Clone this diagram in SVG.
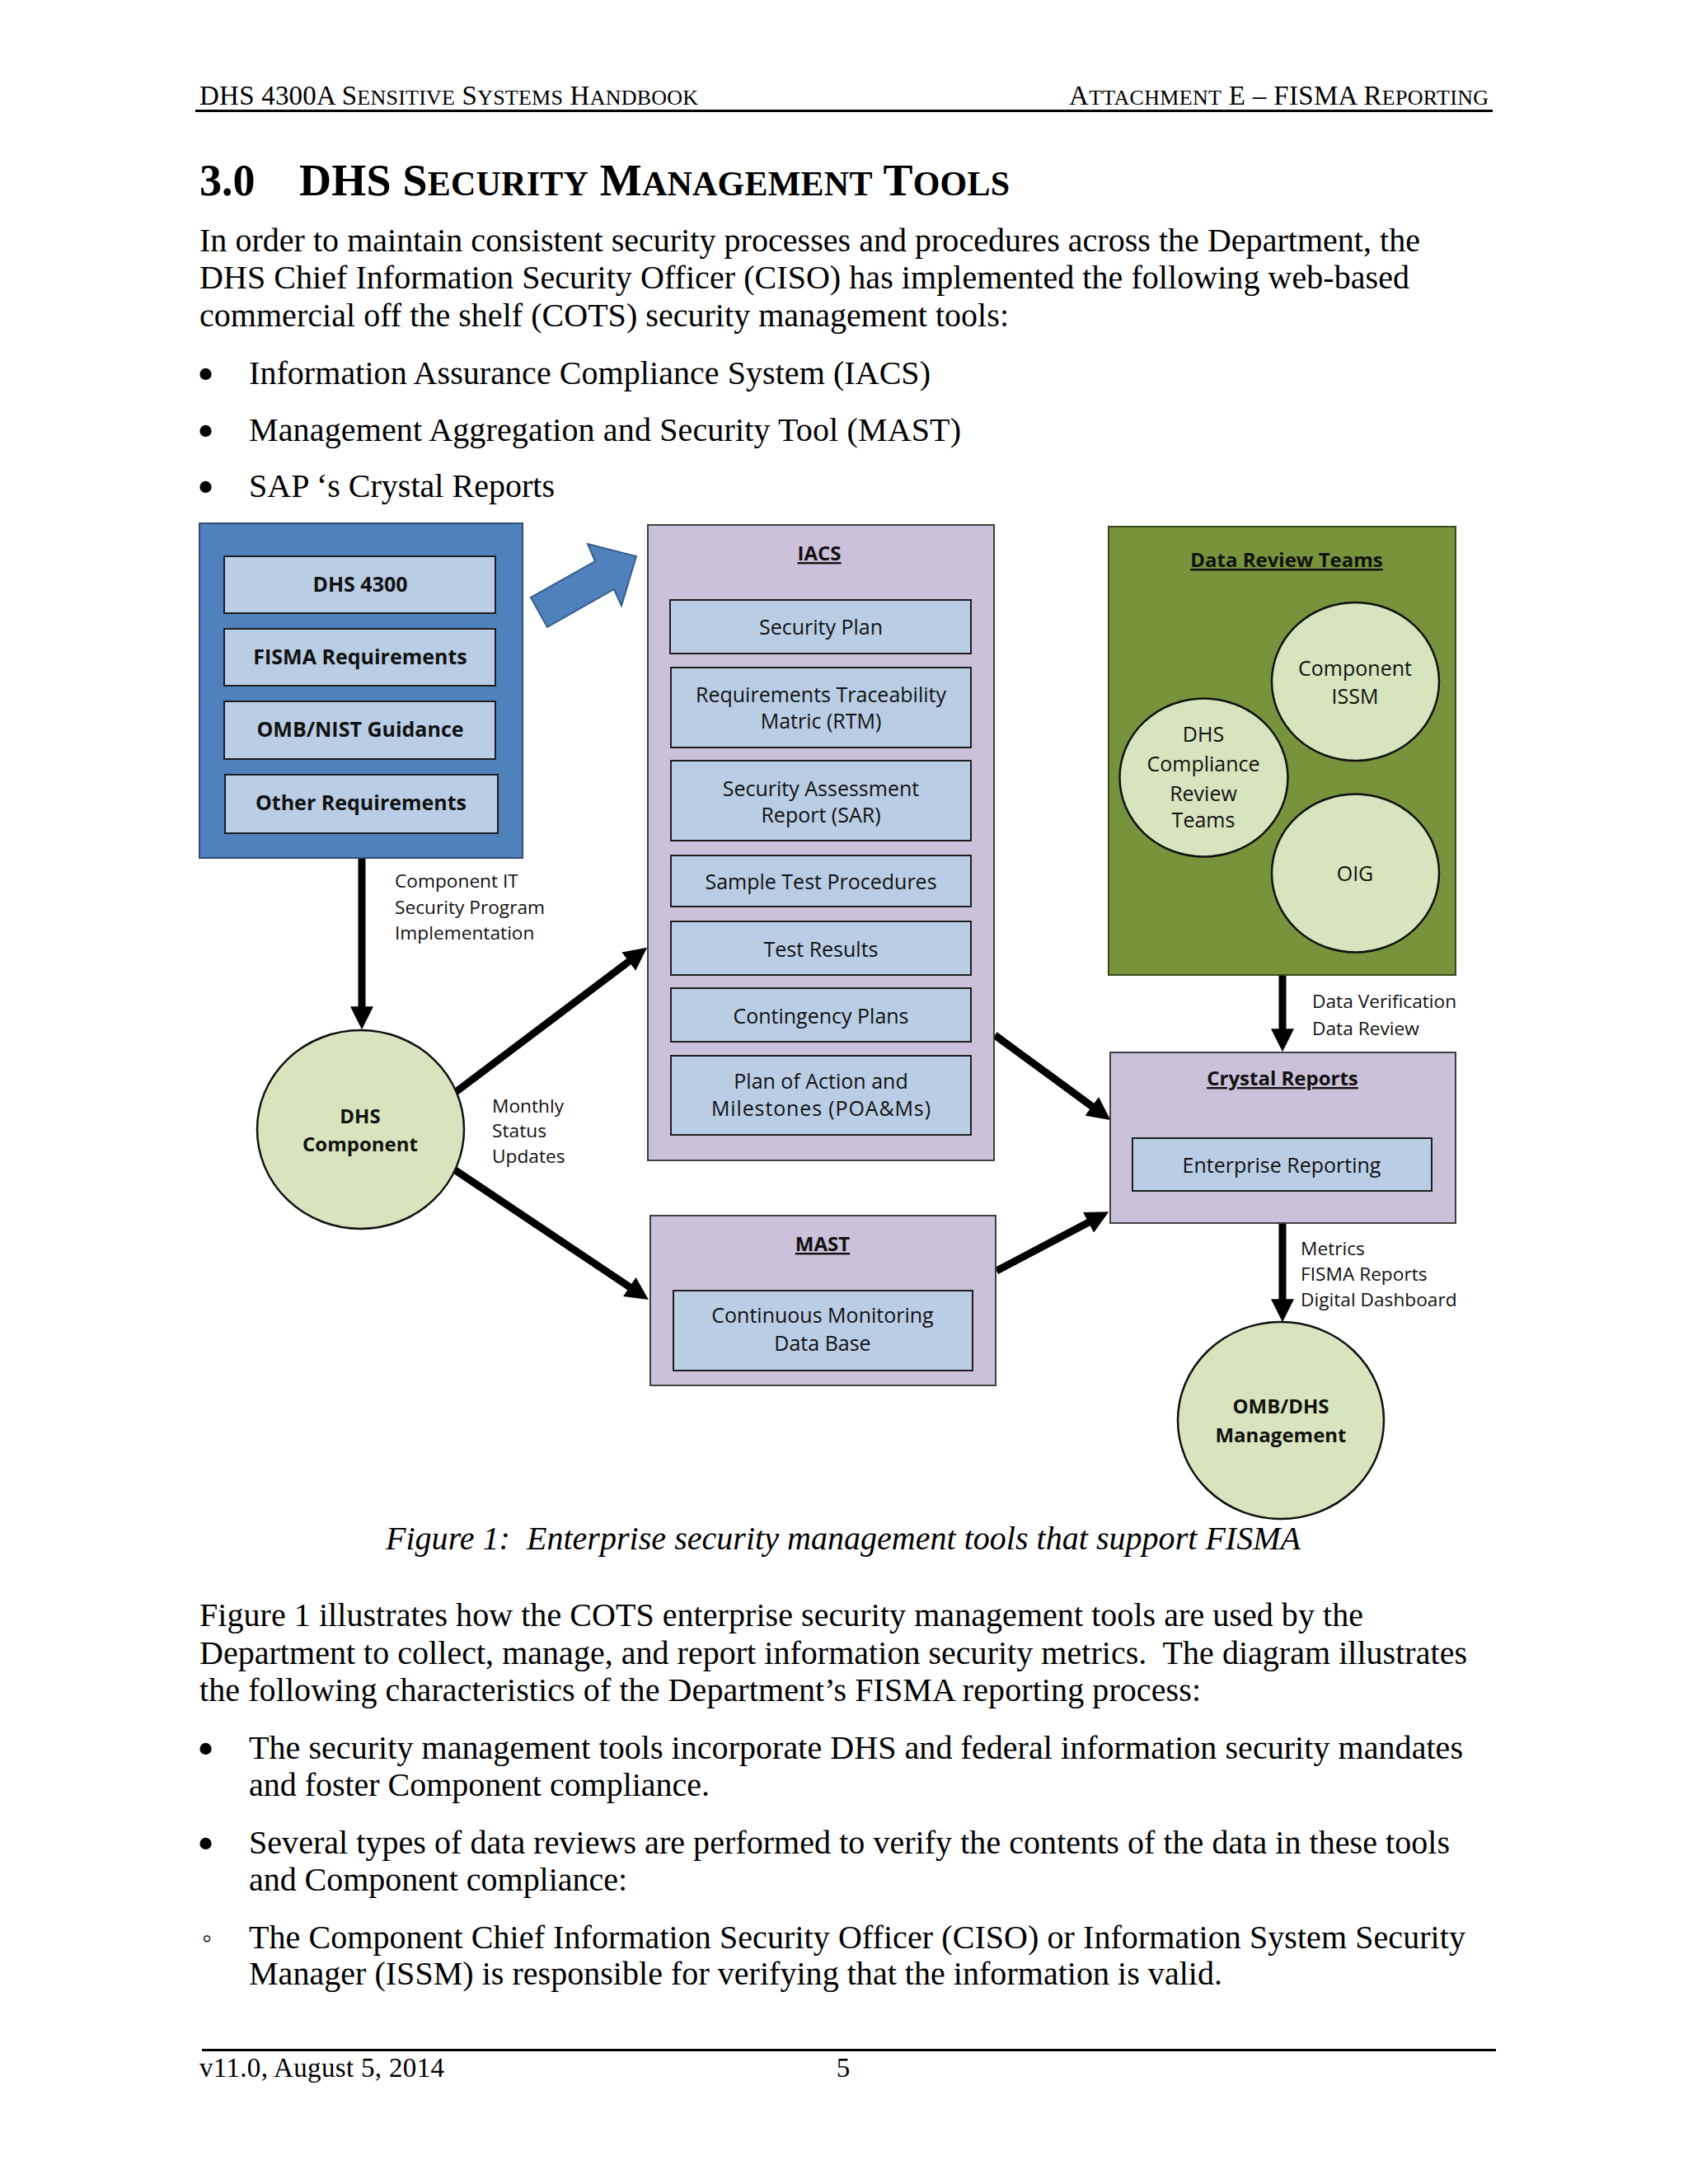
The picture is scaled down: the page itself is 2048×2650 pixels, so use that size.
<svg xmlns="http://www.w3.org/2000/svg" width="2048" height="2650" viewBox="0 0 2048 2650">
<defs>
<marker id="ah" viewBox="0 0 10 10" refX="1" refY="5" markerWidth="28" markerHeight="28" markerUnits="userSpaceOnUse" orient="auto">
<path d="M0,0 L10,5 L0,10 z" fill="#000"/>
</marker>
<style>
.doc{font-family:"Liberation Serif","Times New Roman",serif;fill:#000}
.body{font-size:40px}
.bul{font-size:60px}
.d{font-family:"Open Sans","Noto Sans",sans-serif;fill:#111}
.lbl{font-size:25px;text-anchor:middle}
.blb{font-size:24px;font-weight:bold;text-anchor:middle}
.blb2{font-size:25px;font-weight:bold;text-anchor:middle}
.ttl{font-size:24px;font-weight:bold;text-anchor:middle;text-decoration:underline}
.sm{font-size:22.7px}
.inner{fill:#B9CDE5;stroke:#1e1e1e;stroke-width:2}
.purple{fill:#CCC1DA;stroke:#404040;stroke-width:2}
.circ{fill:#D7E4BD;stroke:#111;stroke-width:2.5}
.conn{stroke:#000;stroke-width:9;fill:none;marker-end:url(#ah)}
</style>
</defs>
<rect x="0" y="0" width="2048" height="2650" fill="#fff"/>

<!-- page header -->
<g id="header" class="doc">
<text x="242" y="127" font-size="33" textLength="605">DHS 4300A S<tspan font-size="26">ENSITIVE</tspan> S<tspan font-size="26">YSTEMS</tspan> H<tspan font-size="26">ANDBOOK</tspan></text>
<text x="1297" y="127" font-size="33" textLength="509">A<tspan font-size="26">TTACHMENT</tspan> E – FISMA R<tspan font-size="26">EPORTING</tspan></text>
<rect x="237" y="133" width="1574" height="3" fill="#000"/>
</g>

<g id="intro" class="doc">
<text x="242" y="237" font-size="54" font-weight="bold">3.0</text>
<text x="363" y="237" font-size="54" font-weight="bold" textLength="862">DHS S<tspan font-size="42">ECURITY</tspan> M<tspan font-size="42">ANAGEMENT</tspan> T<tspan font-size="42">OOLS</tspan></text>
<text class="body" x="242" y="305" textLength="1481">In order to maintain consistent security processes and procedures across the Department, the</text>
<text class="body" x="242" y="350" textLength="1468">DHS Chief Information Security Officer (CISO) has implemented the following web-based</text>
<text class="body" x="242" y="396" textLength="982">commercial off the shelf (COTS) security management tools:</text>
<text class="bul" x="239" y="474">•</text>
<text class="body" x="302" y="466" textLength="827">Information Assurance Compliance System (IACS)</text>
<text class="bul" x="239" y="543">•</text>
<text class="body" x="302" y="535" textLength="864">Management Aggregation and Security Tool (MAST)</text>
<text class="bul" x="239" y="611">•</text>
<text class="body" x="302" y="603" textLength="371">SAP ‘s Crystal Reports</text>
</g>

<!-- connectors -->
<g id="connectors">
<line class="conn" x1="439" y1="1042" x2="439" y2="1224"/>
<line class="conn" x1="545" y1="1331" x2="765" y2="1165"/>
<line class="conn" x1="545" y1="1415" x2="766" y2="1563"/>
<line class="conn" x1="1207" y1="1256" x2="1327" y2="1344"/>
<line class="conn" x1="1209" y1="1542" x2="1323" y2="1482"/>
<line class="conn" x1="1556" y1="1183" x2="1556" y2="1251"/>
<line class="conn" x1="1556" y1="1484" x2="1556" y2="1579"/>
<polygon points="644,725 664,761 745,715 754,735 772,675 713,660 722,681" fill="#4F81BD" stroke="#385D8A" stroke-width="2"/>
</g>

<g id="requirements">
<rect x="242" y="635" width="392" height="406" fill="#4F81BD" stroke="#2F4B73" stroke-width="2"/>
<rect class="inner" x="272" y="675" width="329" height="69"/>
<rect class="inner" x="272" y="763" width="329" height="69"/>
<rect class="inner" x="272" y="851" width="329" height="70"/>
<rect class="inner" x="273" y="940" width="331" height="71"/>
<text class="d blb2" x="437" y="718">DHS 4300</text>
<text class="d blb2" x="437" y="806">FISMA Requirements</text>
<text class="d blb2" x="437" y="894">OMB/NIST Guidance</text>
<text class="d blb2" x="438" y="983">Other Requirements</text>
</g>

<g id="label-implementation" class="d sm">
<text x="479" y="1077">Component IT</text>
<text x="479" y="1109">Security Program</text>
<text x="479" y="1140">Implementation</text>
</g>

<g id="iacs">
<rect class="purple" x="786" y="637" width="420" height="771"/>
<text class="d ttl" x="994" y="680">IACS</text>
<rect class="inner" x="813" y="728" width="365" height="65"/>
<rect class="inner" x="814" y="810" width="364" height="97"/>
<rect class="inner" x="814" y="923" width="364" height="97"/>
<rect class="inner" x="814" y="1038" width="364" height="62"/>
<rect class="inner" x="814" y="1118" width="364" height="65"/>
<rect class="inner" x="814" y="1199" width="364" height="65"/>
<rect class="inner" x="814" y="1281" width="364" height="96"/>
<text class="d lbl" x="996" y="770">Security Plan</text>
<text class="d lbl" x="996" y="852">Requirements Traceability</text>
<text class="d lbl" x="996" y="884">Matric (RTM)</text>
<text class="d lbl" x="996" y="966">Security Assessment</text>
<text class="d lbl" x="996" y="998">Report (SAR)</text>
<text class="d lbl" x="996" y="1079">Sample Test Procedures</text>
<text class="d lbl" x="996" y="1161">Test Results</text>
<text class="d lbl" x="996" y="1242">Contingency Plans</text>
<text class="d lbl" x="996" y="1321">Plan of Action and</text>
<text class="d lbl" x="996" y="1354" textLength="266">Milestones (POA&amp;Ms)</text>
</g>

<g id="data-review-teams">
<rect x="1345" y="639" width="421" height="544" fill="#77933C" stroke="#3A4A1F" stroke-width="2"/>
<text class="d ttl" x="1561" y="688">Data Review Teams</text>
<ellipse class="circ" cx="1644.5" cy="827" rx="101.5" ry="96"/>
<ellipse class="circ" cx="1460.5" cy="943.5" rx="102" ry="96"/>
<ellipse class="circ" cx="1644.5" cy="1059.5" rx="101.5" ry="96"/>
<text class="d lbl" x="1644" y="820">Component</text>
<text class="d lbl" x="1644" y="854">ISSM</text>
<text class="d lbl" x="1460" y="900">DHS</text>
<text class="d lbl" x="1460" y="936">Compliance</text>
<text class="d lbl" x="1460" y="972">Review</text>
<text class="d lbl" x="1460" y="1004">Teams</text>
<text class="d lbl" x="1644" y="1069">OIG</text>
</g>

<g id="label-verification" class="d sm">
<text x="1592" y="1223">Data Verification</text>
<text x="1592" y="1256">Data Review</text>
</g>

<g id="crystal-reports">
<rect class="purple" x="1347" y="1277" width="419" height="207"/>
<text class="d ttl" x="1556" y="1317">Crystal Reports</text>
<rect class="inner" x="1374" y="1381" width="363" height="64"/>
<text class="d lbl" x="1555" y="1423">Enterprise Reporting</text>
</g>

<g id="dhs-component">
<ellipse class="circ" cx="437.5" cy="1370.5" rx="125.5" ry="120.5"/>
<text class="d blb" x="437" y="1363">DHS</text>
<text class="d blb" x="437" y="1397">Component</text>
</g>

<g id="label-monthly" class="d sm">
<text x="597" y="1350">Monthly</text>
<text x="597" y="1380">Status</text>
<text x="597" y="1411">Updates</text>
</g>

<g id="mast">
<rect class="purple" x="789" y="1475" width="419" height="206"/>
<text class="d ttl" x="998" y="1518">MAST</text>
<rect class="inner" x="817" y="1566" width="363" height="97"/>
<text class="d lbl" x="998" y="1605">Continuous Monitoring</text>
<text class="d lbl" x="998" y="1639">Data Base</text>
</g>

<g id="label-metrics" class="d sm">
<text x="1578" y="1523">Metrics</text>
<text x="1578" y="1554">FISMA Reports</text>
<text x="1578" y="1585">Digital Dashboard</text>
</g>

<g id="omb-dhs">
<ellipse class="circ" cx="1554" cy="1723.5" rx="125" ry="119.5"/>
<text class="d blb" x="1554" y="1715">OMB/DHS</text>
<text class="d blb" x="1554" y="1750">Management</text>
</g>

<g id="caption" class="doc">
<text x="468" y="1880" font-size="40" font-style="italic" textLength="1110" xml:space="preserve">Figure 1:  Enterprise security management tools that support FISMA</text>
</g>

<g id="discussion" class="doc">
<text class="body" x="242" y="1973" textLength="1412">Figure 1 illustrates how the COTS enterprise security management tools are used by the</text>
<text class="body" x="242" y="2019" textLength="1538" xml:space="preserve">Department to collect, manage, and report information security metrics.  The diagram illustrates</text>
<text class="body" x="242" y="2064" textLength="1215">the following characteristics of the Department’s FISMA reporting process:</text>
<text class="bul" x="239" y="2142">•</text>
<text class="body" x="302" y="2134" textLength="1473">The security management tools incorporate DHS and federal information security mandates</text>
<text class="body" x="302" y="2179" textLength="559">and foster Component compliance.</text>
<text class="bul" x="239" y="2257">•</text>
<text class="body" x="302" y="2249" textLength="1457">Several types of data reviews are performed to verify the contents of the data in these tools</text>
<text class="body" x="302" y="2294" textLength="459">and Component compliance:</text>
<text x="245" y="2363" font-size="34">◦</text>
<text class="body" x="302" y="2364" textLength="1476">The Component Chief Information Security Officer (CISO) or Information System Security</text>
<text class="body" x="302" y="2408" textLength="1181">Manager (ISSM) is responsible for verifying that the information is valid.</text>
</g>

<g id="footer" class="doc">
<rect x="245" y="2486" width="1570" height="3" fill="#000"/>
<text x="242" y="2520" font-size="33" textLength="297">v11.0, August 5, 2014</text>
<text x="1023" y="2520" font-size="33" text-anchor="middle">5</text>
</g>
</svg>
